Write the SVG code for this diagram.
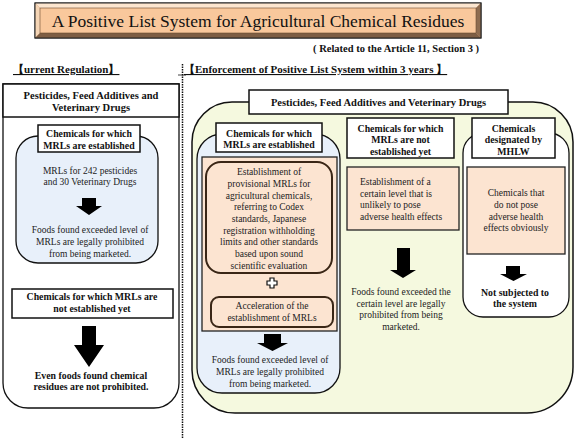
<svg xmlns="http://www.w3.org/2000/svg" width="576" height="439" viewBox="0 0 576 439">
<style>
text{font-family:"Liberation Serif","Times New Roman",Tinos,"DejaVu Serif","Noto Serif",serif}
.b{font-weight:bold;font-size:9.8px;text-anchor:middle;fill:#111}
.h{font-weight:bold;font-size:10.5px;text-anchor:middle;fill:#111}
.t{font-size:9.5px;text-anchor:middle;fill:#222}
.tl{font-size:9.5px;fill:#222}
.box{fill:#fff;stroke:#111;stroke-width:1.5}
.peach{fill:#FCE4D1;stroke:#222;stroke-width:1.3}
.dark{fill:#FCE4D1;stroke:#3A2616;stroke-width:2}
.blue{fill:#E8F0FA;stroke:#111;stroke-width:1.3}
.arrow{fill:#000}
</style>
<rect width="576" height="439" fill="#fff"/>

<g id="title">
<rect x="35" y="3" width="446" height="35" fill="#C89870" stroke="#222" stroke-width="1"/>
<polygon points="35,3 481,3 476,8 40,8" fill="#FCE6D0"/>
<polygon points="35,3 40,8 40,33 35,38" fill="#F5D5B5"/>
<polygon points="35,38 40,33 476,33 481,38" fill="#7E5E44"/>
<polygon points="481,3 481,38 476,33 476,8" fill="#8E6C50"/>
<rect x="35" y="3" width="446" height="35" fill="none" stroke="#222" stroke-width="1"/>
<rect x="40" y="8" width="436" height="25" fill="#F9C89C" stroke="#6a4a30" stroke-width="0.6"/>
<text x="258" y="26.5" style="font-size:17.5px;text-anchor:middle;fill:#111">A Positive List System for Agricultural Chemical Residues</text>
</g>

<g id="subtitle">
<text x="479" y="52" class="h" style="text-anchor:end">( Related to the Article 11, Section 3 )</text>
</g>

<g id="heading-current">
<text x="13" y="73" class="h" style="text-anchor:start;text-decoration:underline;font-size:11px">【urrent Regulation】</text>
</g>
<g id="heading-enforcement">
<line x1="178" y1="75" x2="186" y2="75" stroke="#111" stroke-width="0.8"/>
<text x="184" y="73" class="h" style="text-anchor:start;text-decoration:underline;font-size:11px">【Enforcement of Positive List System within 3 years 】</text>
</g>

<g id="divider">
<line x1="182.5" y1="64" x2="182.5" y2="439" stroke="#111" stroke-width="1.5" stroke-dasharray="1.5,1"/>
</g>

<g id="left-panel">
<path d="M3 84 V383 A25 25 0 0 0 28 408 H154 A25 25 0 0 0 179 383 V84 Z" fill="#fff" stroke="#111" stroke-width="1.3"/>
<rect x="3" y="84" width="176" height="33" class="box"/>
<text x="91" y="98.5" class="h">Pesticides, Feed Additives and</text>
<text x="91" y="110.5" class="h">Veterinary Drugs</text>
</g>

<g id="left-established">
<rect x="16" y="136" width="142" height="127" rx="22" class="blue"/>
<rect x="38" y="125" width="102" height="27" class="box"/>
<text x="89" y="136.5" class="b">Chemicals for which</text>
<text x="89" y="148.5" class="b">MRLs are established</text>
<text x="90" y="173.5" class="t">MRLs for 242 pesticides</text>
<text x="90" y="185" class="t">and 30 Veterinary Drugs</text>
<text x="90" y="233.3" class="t">Foods found exceeded level of</text>
<text x="90" y="245" class="t">MRLs are legally prohibited</text>
<text x="90" y="256.7" class="t">from being marketed.</text>
</g>

<g id="left-not-established">
<rect x="12" y="289" width="161" height="29" class="box"/>
<text x="92" y="300" class="b">Chemicals for which MRLs are</text>
<text x="92" y="311.6" class="b">not established yet</text>
<text x="91" y="378.5" class="b">Even foods found chemical</text>
<text x="91" y="390" class="b">residues are not  prohibited.</text>
</g>

<g id="right-panel">
<path d="M232 102 H533 A40 40 0 0 1 573 142 V367 A46 46 0 0 1 527 413 H235 A43 43 0 0 1 192 370 V142 A40 40 0 0 1 232 102 Z" fill="#F5F9DF" stroke="#111" stroke-width="1.5"/>
<rect x="249" y="90" width="259" height="24" class="box"/>
<text x="378.5" y="105.5" class="h">Pesticides, Feed Additives and Veterinary Drugs</text>
</g>

<g id="col-established">
<rect x="197" y="134" width="143" height="259" rx="25" class="blue"/>
<rect x="216" y="123" width="106" height="29" class="box"/>
<text x="269" y="136.6" class="b">Chemicals for which</text>
<text x="269" y="148.3" class="b">MRLs are established</text>
<rect x="202" y="157" width="135" height="174" class="peach"/>
<rect x="206" y="162" width="126" height="111" rx="15" class="dark"/>
<text x="269" y="175.3" class="t">Establishment of</text>
<text x="269" y="187" class="t">provisional MRLs for</text>
<text x="269" y="198.6" class="t">agricultural chemicals,</text>
<text x="269" y="210.3" class="t">referring to Codex</text>
<text x="269" y="222" class="t">standards, Japanese</text>
<text x="269" y="233.6" class="t">registration withholding</text>
<text x="269" y="245.3" class="t">limits and other standards</text>
<text x="269" y="257" class="t">based upon sound</text>
<text x="269" y="268.6" class="t">scientific evaluation</text>
<path d="M270 278 h4 v3 h3 v4 h-3 v3 h-4 v-3 h-3 v-4 h3 z" fill="#fff" stroke="#111" stroke-width="1.2"/>
<rect x="211" y="297" width="122" height="30" rx="8" class="dark"/>
<text x="272" y="309.3" class="t">Acceleration of the</text>
<text x="272" y="321.3" class="t">establishment of MRLs</text>
<text x="270" y="363.3" class="t">Foods found exceeded level of</text>
<text x="270" y="375" class="t">MRLs are legally prohibited</text>
<text x="270" y="386.6" class="t">from being marketed.</text>
</g>

<g id="col-not-established">
<rect x="347" y="118" width="107" height="40" class="box"/>
<text x="400.5" y="131.6" class="b">Chemicals for which</text>
<text x="400.5" y="143.3" class="b">MRLs are not</text>
<text x="400.5" y="155" class="b">established yet</text>
<rect x="347" y="167" width="112" height="63" class="peach"/>
<text x="360" y="185.3" class="tl">Establishment of a</text>
<text x="360" y="196.6" class="tl">certain level that is</text>
<text x="360" y="208.3" class="tl">unlikely to pose</text>
<text x="360" y="220" class="tl">adverse health effects</text>
<text x="401" y="295.3" class="t">Foods found exceeded the</text>
<text x="401" y="306.6" class="t">certain level are legally</text>
<text x="401" y="318.3" class="t">prohibited from being</text>
<text x="401" y="330" class="t">marketed.</text>
</g>

<g id="col-designated">
<rect x="463" y="133" width="106" height="184" rx="20" fill="#fff" stroke="#111" stroke-width="1.3"/>
<rect x="472" y="118" width="83" height="40" class="box"/>
<text x="513.5" y="131.6" class="b">Chemicals</text>
<text x="513.5" y="143.3" class="b">designated by</text>
<text x="513.5" y="155" class="b">MHLW</text>
<rect x="467" y="167" width="98" height="87" class="peach"/>
<text x="516" y="196.3" class="t">Chemicals that</text>
<text x="516" y="208" class="t">do not pose</text>
<text x="516" y="219.6" class="t">adverse health</text>
<text x="516" y="231.3" class="t">effects obviously</text>
<text x="515" y="295.6" class="b">Not subjected to</text>
<text x="515" y="306.6" class="b">the system</text>
</g>

<g id="connectors">
<polygon class="arrow" points="82,198 96,198 96,206 102,206 89,215 76,206 82,206"/>
<polygon class="arrow" points="82,326 96,326 96,345 104,345 89,367 74,345 82,345"/>
<polygon class="arrow" points="264,334 281,334 281,343 288,343 272.5,351 257,343 264,343"/>
<polygon class="arrow" points="397,248 410,248 410,270 416,270 403,278 390,270 397,270"/>
<polygon class="arrow" points="506,266 520,266 520,274 527,274 513.5,281 500,274 506,274"/>
</g>
</svg>
